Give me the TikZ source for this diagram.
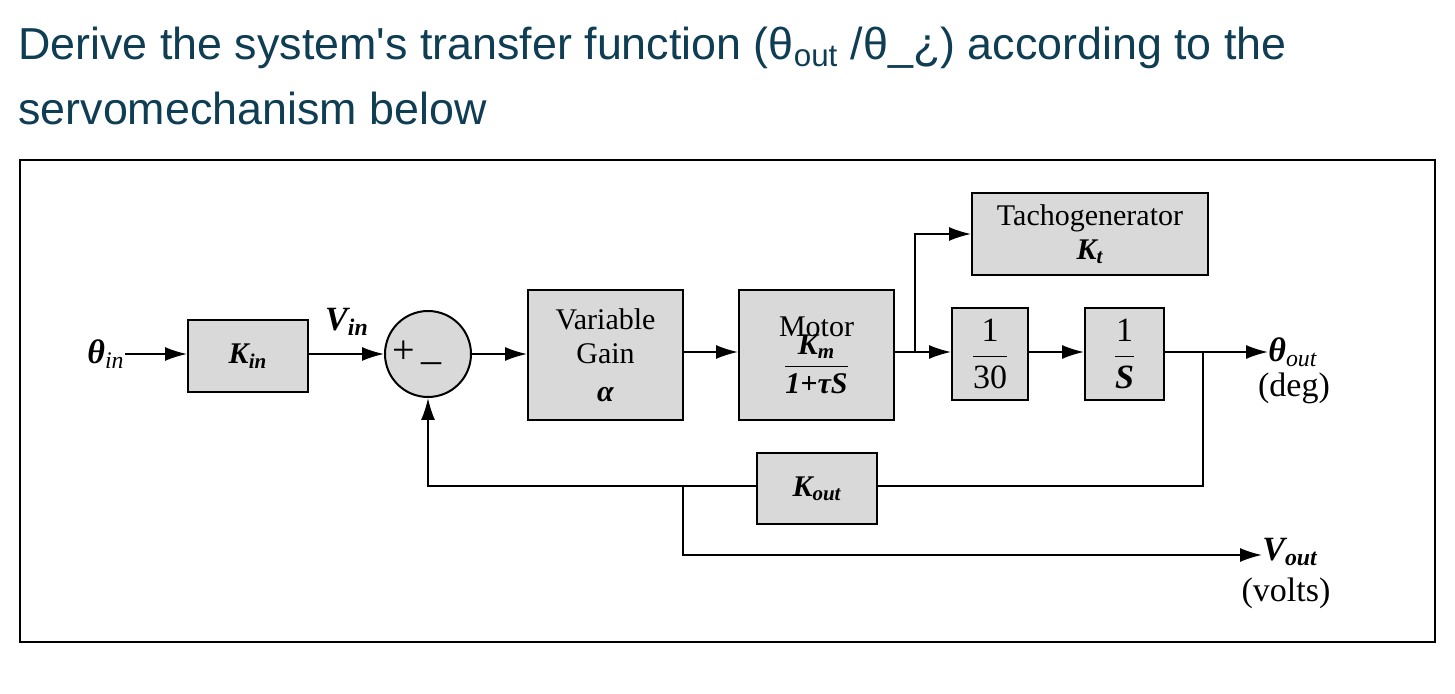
\documentclass[tikz,border=0pt]{standalone}
\usepackage{amsmath}
\usepackage{fontspec}
\setmainfont{Liberation Serif}
\newfontfamily\titlefont{Liberation Sans}
\usetikzlibrary{arrows.meta}
\definecolor{titlec}{HTML}{0E3D54}
\definecolor{boxc}{HTML}{D9D9D9}
\begin{document}
\begin{tikzpicture}[x=0.5pt,y=-0.5pt,
  blk/.style={draw, line width=1pt, fill=boxc, inner sep=0pt, align=center, font=\fontsize{15}{17}\selectfont},
  arr/.style={line width=0.8pt, -{Latex[length=11pt,width=7pt]}},
  ln/.style={line width=0.8pt},
  lbl/.style={font=\fontsize{17}{19}\selectfont\bfseries\itshape, inner sep=0pt}]
\useasboundingbox (0,0) rectangle (1455,694);
\node[anchor=base west, inner sep=0pt, text=titlec, font=\titlefont\fontsize{22.4}{26}\selectfont] (t1) at (18,60) {Derive the system's transfer function (θ\textsubscript{out} /θ\_¿) according to the};
\node[anchor=base west, inner sep=0pt, text=titlec, font=\titlefont\fontsize{22.4}{26}\selectfont] (t2) at (18,125) {servomechanism below};
\node[draw, line width=1.2pt, minimum width=707.5pt, minimum height=241pt, inner sep=0pt] (frame) at (727.5,401) {};

\node[lbl] (thin) at (106,354) {θ\textsubscript{\normalfont\itshape in}};
\node[blk, minimum width=60pt, minimum height=36pt] (kin) at (248,356) {\textbf{\textit{K\textsubscript{in}}}};
\node[draw, circle, line width=1pt, fill=boxc, minimum size=43pt, inner sep=0pt] (sum) at (428,354) {};
\node[font=\fontsize{20}{22}\selectfont] (plus) at (404,352) {+};
\node[font=\fontsize{20}{22}\selectfont] (minus) at (431,362) {\_};
\node[lbl] (vin) at (347,322) {V\textsubscript{in}};
\node[blk, minimum width=77.5pt, minimum height=65pt] (gain) at (605.5,355) {Variable\\Gain\\[2pt]\textbf{\textit{α}}};
\node[blk, minimum width=77.5pt, minimum height=65pt] (motor) at (816.5,355) {Motor\\[-2pt]$\displaystyle\frac{\textbf{\textit{K\textsubscript{m}}}}{\textbf{\textit{1+τS}}}$};
\node[blk, minimum width=118pt, minimum height=41pt] (tacho) at (1090,234) {Tachogenerator\\\textbf{\textit{K\textsubscript{t}}}};
\node[blk, minimum width=38pt, minimum height=46pt, font=\fontsize{17}{19}\selectfont] (g30) at (990,354) {$\displaystyle\frac{\text{1}}{\text{30}}$};
\node[blk, minimum width=39.5pt, minimum height=46pt, font=\fontsize{17}{19}\selectfont] (gs) at (1124.5,354) {$\displaystyle\frac{\text{1}}{\textbf{\textit{S}}}$};
\node[blk, minimum width=60pt, minimum height=35.5pt] (kout) at (817,488.5) {\textbf{\textit{K\textsubscript{out}}}};
\node[lbl, anchor=west] (thout) at (1268,352) {θ\textsubscript{\normalfont\itshape out}};
\node[font=\fontsize{17}{19}\selectfont] (deg) at (1294,388) {(deg)};
\node[lbl, anchor=west] (vout) at (1262,552) {V\textsubscript{out}};
\node[font=\fontsize{17}{19}\selectfont] (volts) at (1286,593) {(volts)};

\coordinate (br) at (915,352);
\coordinate (fb) at (1203,352);
\coordinate (vb) at (683,486);

\draw[arr] (thin.east) -- (thin.east -| kin.west);
\draw[arr] (kin.east |- sum) -- (sum.west);
\draw[arr] (sum.east) -- (sum.east -| gain.west);
\draw[arr] (gain.east |- br) -- (motor.west |- br);
\draw[ln] (motor.east |- br) -- (br);
\draw[arr] (br) |- (tacho.west);
\draw[arr] (br) -- (g30.west |- br);
\draw[arr] (g30.east |- br) -- (gs.west |- br);
\draw[arr] (gs.east |- br) -- (thout.west);
\draw[ln] (fb) |- (kout.east |- vb);
\draw[arr] (kout.west |- vb) -| (sum.south);
\draw[arr] (vb) |- (vout.west |- 0,555);
\end{tikzpicture}
\end{document}
